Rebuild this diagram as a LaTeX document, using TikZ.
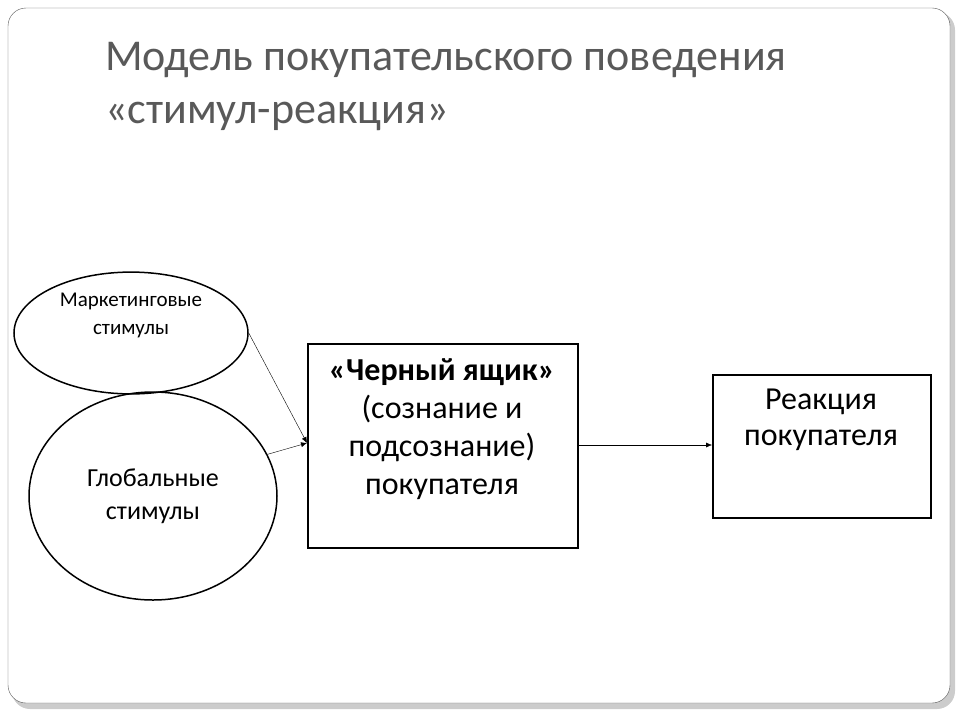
\documentclass[tikz,border=0pt]{standalone}
\usepackage{fontspec}
\setmainfont{Carlito}
\usetikzlibrary{arrows.meta,shapes.geometric}
\begin{document}
\begin{tikzpicture}[x=1pt,y=-1pt,
          box/.style={draw,line width=1.5pt,align=center,anchor=north west,inner sep=0pt},
          oval/.style={draw,line width=1.5pt,ellipse,align=center},
          link/.style={-{Latex[length=6pt,width=5pt]}}
          ]
          \useasboundingbox (0,0) rectangle (960,720);
          \fill[gray!40,rounded corners=18pt] (12,12) rectangle (955,709);
          \draw[gray!70!black,fill=white,rounded corners=18pt] (8,8) rectangle (950,703);
          \node[text=black!65,font=\fontsize{44}{53}\selectfont,align=left,anchor=north west,inner sep=0pt]
            (title) at (105,42) {Модель покупательского поведения\\«стимул-реакция»};
          \node[oval,minimum width=234pt,minimum height=110pt,font=\fontsize{21}{28}\selectfont]
            (mark) at (131,333) {Маркетинговые\\стимулы\\[10pt]};
          \node[oval,minimum width=248pt,minimum height=208pt,font=\fontsize{26}{33}\selectfont]
            (glob) at (153,496) {Глобальные\\стимулы};
          \node[box,minimum width=270pt,minimum height=204pt] (black) at (307,343) {};
          \node[font=\fontsize{32}{38}\selectfont,align=center,anchor=north,inner sep=0pt]
            (blacktxt) at (442,358) {\textbf{«Черный ящик»}\\(сознание и\\подсознание)\\покупателя};
          \node[box,minimum width=218pt,minimum height=143pt] (react) at (712,374) {};
          \node[font=\fontsize{32}{36}\selectfont,align=center,anchor=north,inner sep=0pt]
            (reacttxt) at (821,389) {Реакция\\покупателя};
          \coordinate (in) at (307,443);
          \coordinate (out) at (577,445);
          \draw[link] (mark.east) -- (in);
          \draw[link] (glob.20) -- (in);
          \draw[link] (out) -- (react.west |- out);
        \end{tikzpicture}
\end{document}
